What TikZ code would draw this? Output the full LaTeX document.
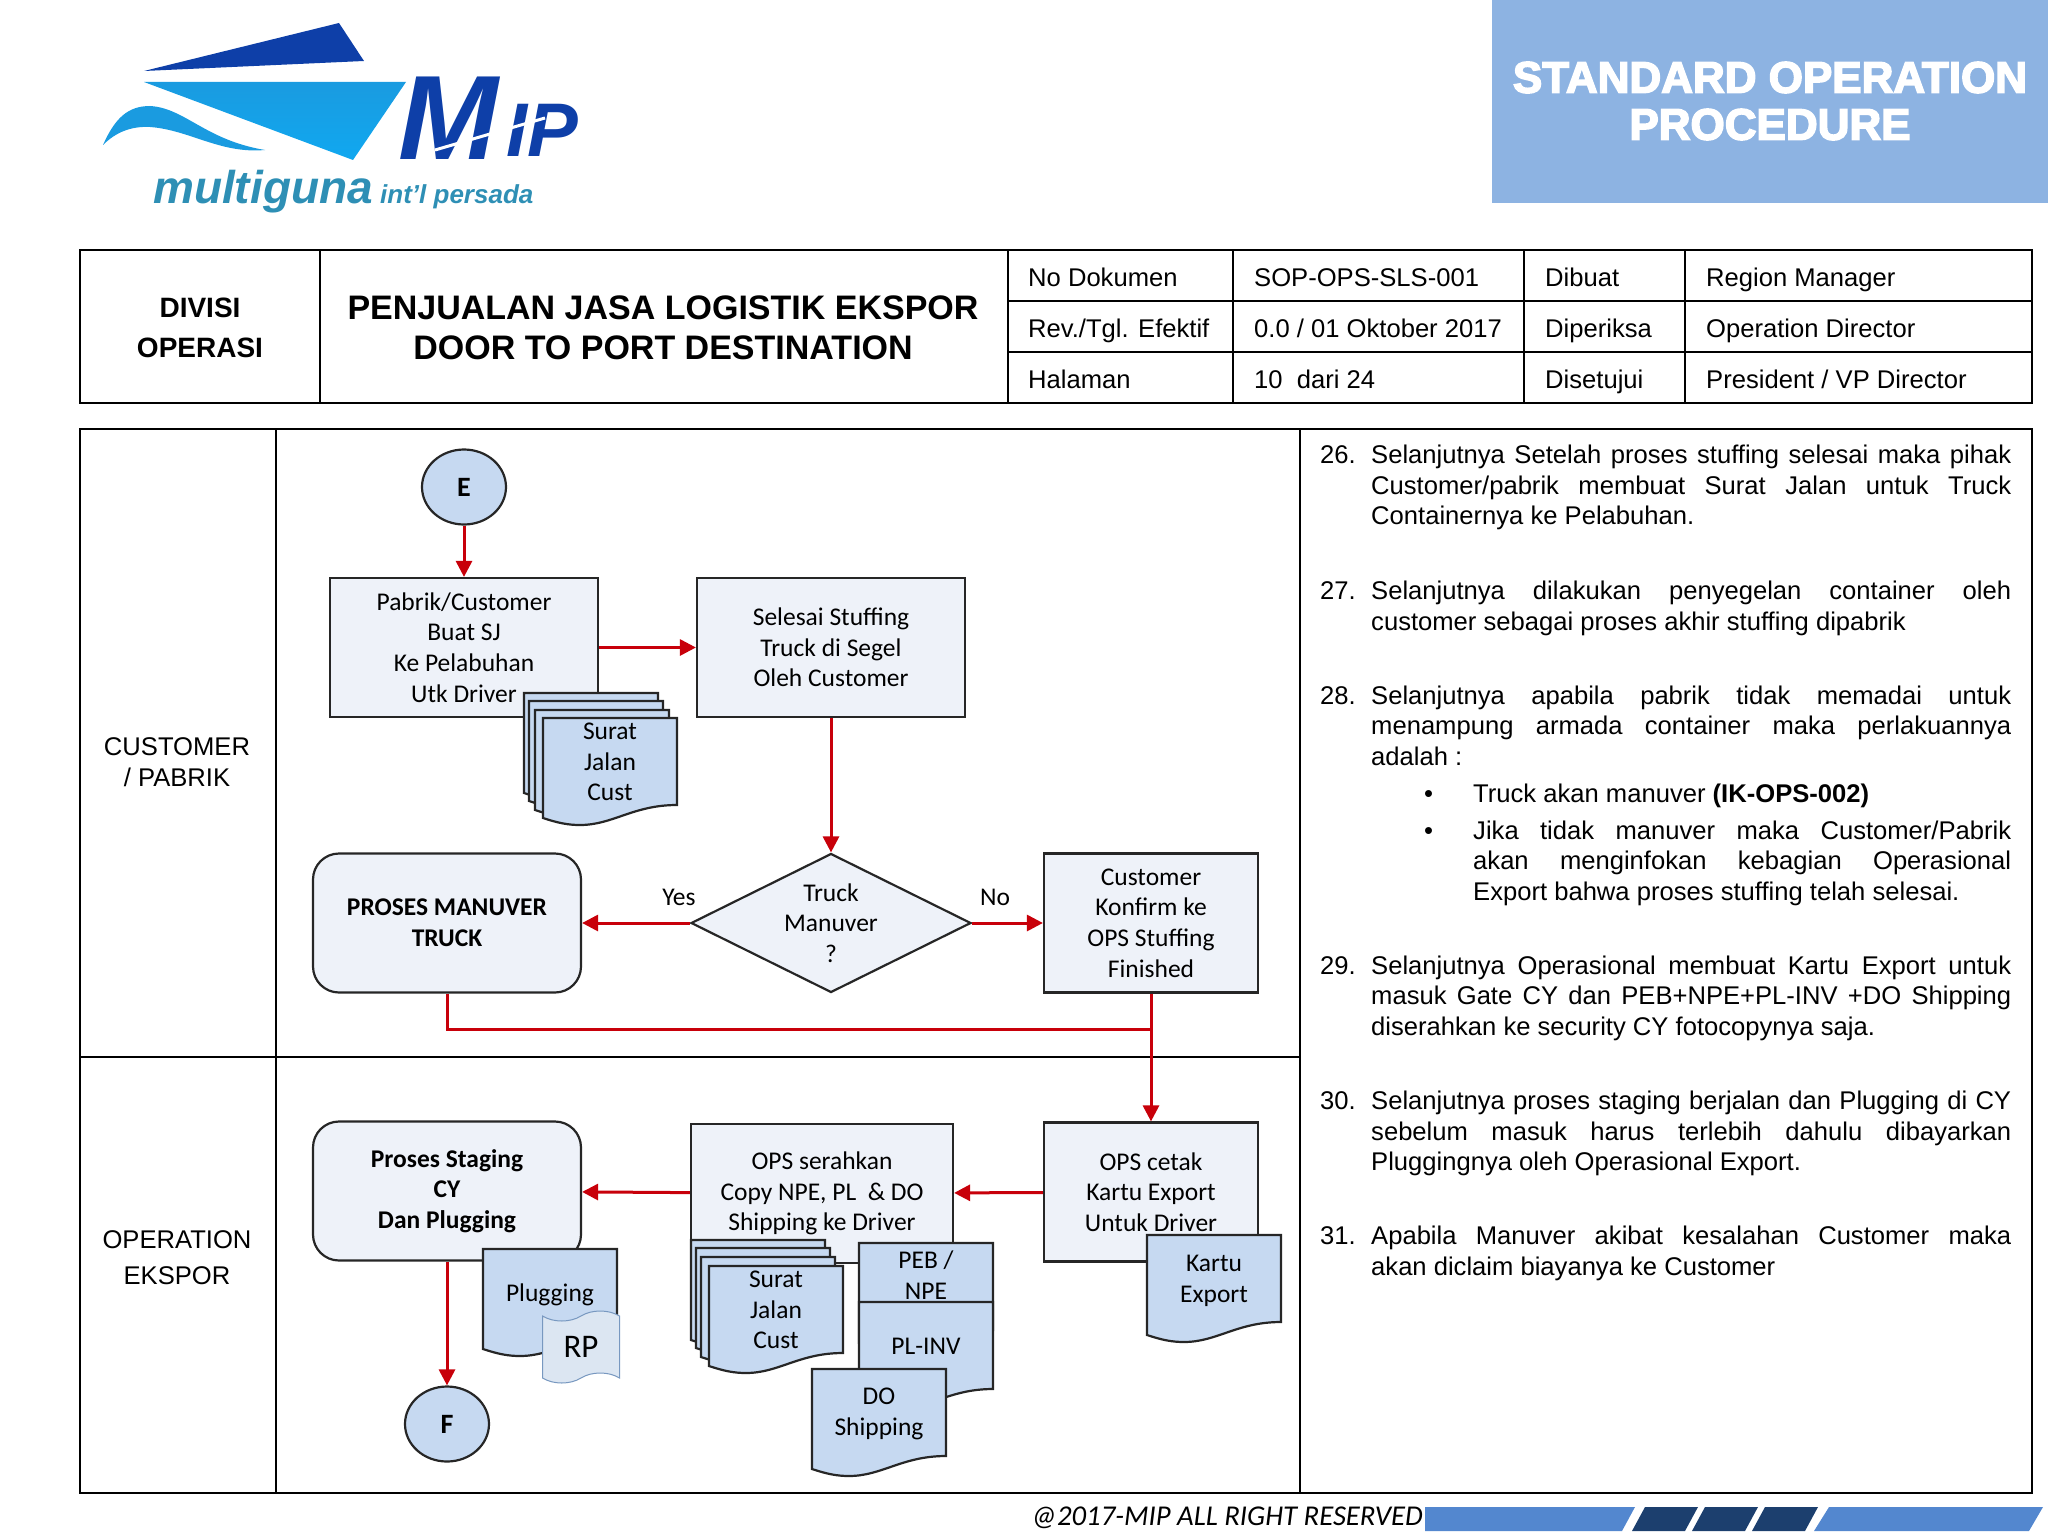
\documentclass[tikz,border=0pt]{standalone}
\usepackage{fontspec}
\setmainfont{Liberation Sans}
\newfontfamily\calibri{Carlito}
\newfontfamily\bannerfont{Liberation Sans}[BoldFeatures={FakeBold=3.5}]
\usetikzlibrary{positioning, arrows.meta, shapes.geometric, shapes.symbols}

\definecolor{boxfill}{HTML}{EEF2F9}
\definecolor{docfill}{HTML}{C6D9F1}
\definecolor{tapefill}{HTML}{DCE6F2}
\definecolor{bannerblue}{HTML}{8DB3E2}
\definecolor{flowred}{HTML}{C8000A}
\definecolor{logodark}{HTML}{0E3FA8}
\definecolor{logolight}{HTML}{1A9BE0}
\definecolor{logobright}{HTML}{10A8F0}
\definecolor{logoteal}{HTML}{2E8FB5}
\definecolor{barblue}{HTML}{5387CF}
\definecolor{bardark}{HTML}{1C3F6E}

% one sheet, drawn from its top left corner
\newcommand{\docpath}[1]{%
  \draw[sheet, shift={(#1)}] (0,0) -- (134,0) -- (134,87)
    .. controls (90,87) and (70,107) .. (37,107)
    .. controls (25,107) and (15,105) .. (0,100) -- cycle;
}
% sheet with its label: [label height] corner, name, text
\newcommand{\docsheet}[4][44]{%
  \docpath{#2}
  \begin{scope}[shift={(#2)}]
    \node[sheetlabel] (#3) at (67,#1) {#4};
  \end{scope}
}

\begin{document}
\begin{tikzpicture}[
    x=1pt, y=-1pt,
    >={Triangle[length=16pt,width=16pt]},
    on grid,
    grid/.style={line width=2.4pt, draw=black},
    flow/.style={->, line width=3pt, draw=flowred},
    process/.style={draw=black!85, line width=2.2pt, fill=boxfill, font=\calibri\fontsize{25.5}{30.6}\selectfont, align=center, minimum width=268pt, minimum height=139pt, inner sep=0pt},
    terminator/.style={process, rounded corners=26pt, font=\calibri\bfseries\fontsize{25.5}{30.6}\selectfont},
    decision/.style={process, diamond, aspect=2, minimum width=280pt, minimum height=139pt},
    connector/.style={process, ellipse, fill=docfill, minimum width=84pt, minimum height=75pt, font=\calibri\bfseries\fontsize{28}{30}\selectfont},
    sheet/.style={draw=black!85, line width=2.2pt, fill=docfill},
    sheetlabel/.style={font=\calibri\fontsize{25.5}{30.6}\selectfont, align=center, inner sep=0pt},
    answer/.style={font=\calibri\fontsize{25.5}{30}\selectfont, inner sep=0pt},
    body/.style={font=\fontsize{25.6}{30.6}\selectfont, inner sep=0pt},
    cell/.style={body, anchor=base west},
    stepnum/.style={body, anchor=north west},
    steptext/.style={body, anchor=north west, align=justify, text width=640pt},
    subtext/.style={steptext, text width=538pt}
]
\useasboundingbox (0,0) rectangle (2048,1536);

% -------------------------
% LOGO AND BANNER
% -------------------------
\fill[bannerblue] (1492,0) rectangle (2048,203);
\node[font=\bannerfont\bfseries\fontsize{44}{47}\selectfont, text=white, align=center, inner sep=0pt] (banner) at (1770,101) {STANDARD OPERATION\\PROCEDURE};

\fill[logodark] (144,71) -- (339,23) -- (364,61) -- cycle;
\shade[top color=logolight, bottom color=logobright] (144,82) -- (406,82) -- (353,160) -- cycle;
\fill[logolight] (103,145) .. controls (115,118) and (128,106) .. (150,106)
  .. controls (185,108) and (205,140) .. (265,150)
  .. controls (220,154) and (190,130) .. (150,127)
  .. controls (130,126) and (115,133) .. (103,145) -- cycle;
\node[anchor=base west, inner sep=0pt, text=logodark, font=\bfseries\itshape\fontsize{120}{120}\selectfont] (logoM) at (398,160) {M};
\node[anchor=base west, inner sep=0pt, text=logodark, font=\bfseries\itshape\fontsize{76}{76}\selectfont] (logoIP) at (506,157) {IP};
\draw[white, line width=3pt] (435,150) -- (545,118);
\node[anchor=base west, inner sep=0pt, text=logoteal, font=\bfseries\itshape\fontsize{46}{46}\selectfont] (logoname) at (153,203) {multiguna};
\node[anchor=base west, inner sep=0pt, text=logoteal, font=\bfseries\itshape\fontsize{26}{26}\selectfont] (logosub) at (380,203) {int'l persada};

% -------------------------
% HEADER TABLE
% -------------------------
\draw[grid] (80,250) rectangle (2032,403);
\draw[grid] (320,250) -- (320,403) (1008,250) -- (1008,403);
\draw[line width=2pt] (1233,250) -- (1233,403) (1524,250) -- (1524,403) (1685,250) -- (1685,403);
\draw[line width=2pt] (1008,301) -- (2032,301) (1008,352) -- (2032,352);

\node[font=\bfseries\fontsize{28}{40.5}\selectfont, align=center, inner sep=0pt] (division) at (200,328) {DIVISI\\OPERASI};
\node[font=\bfseries\fontsize{34}{40.5}\selectfont, align=center, inner sep=0pt] (doctitle) at (663,328) {PENJUALAN JASA LOGISTIK EKSPOR\\DOOR TO PORT DESTINATION};

\node[cell] (rowA) at (1028,286) {No Dokumen};
\node[cell] (rowAval) at (1254,286) {SOP-OPS-SLS-001};
\node[cell] (rowAby) at (1545,286) {Dibuat};
\node[cell] (rowAwho) at (1706,286) {Region Manager};
\node[cell] (rowB) at (1028,337) {Rev./Tgl. Efektif};
\node[cell] (rowBval) at (1254,337) {0.0 / 01 Oktober 2017};
\node[cell] (rowBby) at (1545,337) {Diperiksa};
\node[cell] (rowBwho) at (1706,337) {Operation Director};
\node[cell] (rowC) at (1028,388) {Halaman};
\node[cell] (rowCval) at (1254,388) {10~~dari 24};
\node[cell] (rowCby) at (1545,388) {Disetujui};
\node[cell] (rowCwho) at (1706,388) {President / VP Director};

% -------------------------
% SWIMLANES
% -------------------------
\draw[line width=2pt] (1300,429) -- (2032,429) -- (2032,1493) -- (1300,1493);
\draw[line width=2.6pt] (80,429) rectangle (1300,1493);
\draw[grid] (276,429) -- (276,1493);
\draw[line width=2.6pt] (80,1057) -- (1300,1057);

\node[body, align=center] (laneCustomer) at (177,762) {CUSTOMER\\/ PABRIK};
\node[font=\fontsize{25.6}{36}\selectfont, align=center, inner sep=0pt] (laneOperation) at (177,1258) {OPERATION\\EKSPOR};

% -------------------------
% CUSTOMER LANE
% -------------------------
\node[connector] (E) at (464,487) {E};
\node[process] (Pabrik) [below=160.5pt of E] {Pabrik/Customer\\Buat SJ\\Ke Pelabuhan\\Utk Driver};
\node[process] (Selesai) [right=367pt of Pabrik] {Selesai Stuffing\\Truck di Segel\\Oleh Customer};
\node[decision] (Manuver) [below=275.5pt of Selesai] {Truck\\Manuver\\?};
\node[terminator] (ProsesManuver) [left=384pt of Manuver] {PROSES MANUVER\\TRUCK};
\node[process, minimum width=214pt] (Konfirm) [right=320pt of Manuver] {Customer\\Konfirm ke\\OPS Stuffing\\Finished};
\coordinate (joinLine) at (1152,1029);

\node[answer] (yesLabel) at (679,897) {Yes};
\node[answer] (noLabel) at (995,897) {No};

\foreach \xa/\ya in {524/693, 529/701, 535/710} {\docpath{\xa,\ya}}
\docsheet{543,718}{SuratCust}{Surat\\Jalan\\Cust}

% -------------------------
% OPERATION LANE
% -------------------------
\node[process, minimum width=214pt] (Cetak) [below=269pt of Konfirm] {OPS cetak\\Kartu Export\\Untuk Driver};
\node[process, minimum width=262pt] (Serahkan) [left=329pt of Cetak, yshift=-1.5pt] {OPS serahkan\\Copy NPE, PL~~\& DO\\Shipping ke Driver};
\node[terminator] (Staging) [left=375pt of Serahkan, yshift=2.5pt] {Proses Staging\\CY\\Dan Plugging};
\node[connector] (F) [below=233pt of Staging] {F};

\docsheet[46]{1147,1235}{KartuExport}{Kartu\\Export}
\docsheet[46]{483,1249}{Plugging}{Plugging}
\node[tape, tape bend top=in and out, tape bend bottom=in and out, tape bend height=10pt, draw=bannerblue!85!black, line width=1pt, fill=tapefill, minimum width=77pt, minimum height=72pt, inner sep=0pt, font=\calibri\fontsize{33}{36}\selectfont] (RP) at (581,1347) {RP};

\foreach \xa/\ya in {691/1240, 696/1248, 701/1257} {\docpath{\xa,\ya}}
\docsheet{709,1266}{SuratOps}{Surat\\Jalan\\Cust}
\docsheet[32]{859,1243}{PebNpe}{PEB /\\NPE}
\docsheet{859,1302}{PlInv}{PL-INV}
\docsheet[45]{812,1369}{DoShipping}{DO\\Shipping}

% -------------------------
% FLOW LINES
% -------------------------
\draw[flow] (E) -- (Pabrik);
\draw[flow] (Pabrik) -- (Selesai);
\draw[flow] (Selesai) -- (Manuver);
\draw[flow] (Manuver) -- (ProsesManuver);
\draw[flow] (Manuver) -- (Konfirm);
\draw[flow, -] (ProsesManuver.south) |- (joinLine);
\draw[flow] (Konfirm) -- (Cetak);
\draw[flow] (Cetak) -- (Serahkan);
\draw[flow] (Serahkan) -- (Staging);
\draw[flow] (Staging) -- (F);

% -------------------------
% STEPS
% -------------------------
\node[stepnum] (num26) at (1320,442) {\strut 26.};
\node[steptext] (step26) at (1371,442) {\strut Selanjutnya Setelah proses stuffing selesai maka pihak\linebreak Customer/pabrik membuat Surat Jalan untuk Truck\linebreak Containernya ke Pelabuhan.};

\node[stepnum] (num27) at (1320,578) {\strut 27.};
\node[steptext] (step27) at (1371,578) {\strut Selanjutnya dilakukan penyegelan container oleh\linebreak customer sebagai proses akhir stuffing dipabrik};

\node[stepnum] (num28) at (1320,682.5) {\strut 28.};
\node[steptext] (step28) at (1371,682.5) {\strut Selanjutnya apabila pabrik tidak memadai untuk\linebreak menampung armada container maka perlakuannya\linebreak adalah :};
\node[stepnum] (bulletA) at (1424,780.5) {\strut •};
\node[subtext] (subA) at (1473,780.5) {\strut Truck akan manuver \textbf{(IK-OPS-002)}};
\node[stepnum] (bulletB) at (1424,817.5) {\strut •};
\node[subtext] (subB) at (1473,817.5) {\strut Jika tidak manuver maka Customer/Pabrik\linebreak akan menginfokan kebagian Operasional\linebreak Export bahwa proses stuffing telah selesai.};

\node[stepnum] (num29) at (1320,952.5) {\strut 29.};
\node[steptext] (step29) at (1371,952.5) {\strut Selanjutnya Operasional membuat Kartu Export untuk\linebreak masuk Gate CY dan PEB+NPE+PL-INV +DO Shipping\linebreak diserahkan ke security CY fotocopynya saja.};

\node[stepnum] (num30) at (1320,1088) {\strut 30.};
\node[steptext] (step30) at (1371,1088) {\strut Selanjutnya proses staging berjalan dan Plugging di CY\linebreak sebelum masuk harus terlebih dahulu dibayarkan\linebreak Pluggingnya oleh Operasional Export.};

\node[stepnum] (num31) at (1320,1223) {\strut 31.};
\node[steptext] (step31) at (1371,1223) {\strut Apabila Manuver akibat kesalahan Customer maka\linebreak akan diclaim biayanya ke Customer};

% -------------------------
% FOOTER
% -------------------------
\node[anchor=east, inner sep=0pt, font=\calibri\itshape\fontsize{28.7}{30}\selectfont] (footer) at (1423,1518) {@2017-MIP ALL RIGHT RESERVED};
\fill[barblue] (1425,1507) -- (1635,1507) -- (1622,1531) -- (1425,1531) -- cycle;
\foreach \xa in {1645, 1705, 1765} {\fill[bardark] (\xa,1507) -- (\xa+53,1507) -- (\xa+40,1531) -- (\xa-13,1531) -- cycle;}
\fill[barblue] (1829,1507) -- (2043,1507) -- (2029,1531) -- (1814,1531) -- cycle;

\end{tikzpicture}
\end{document}
